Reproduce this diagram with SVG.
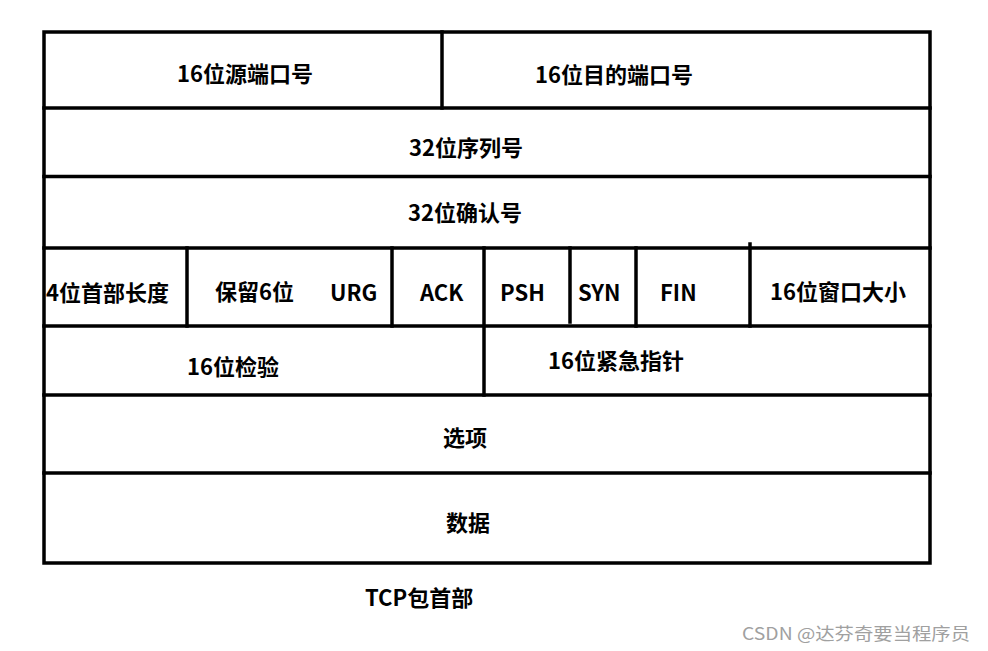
<svg xmlns="http://www.w3.org/2000/svg" width="988" height="651" viewBox="0 0 988 651">
  <style>
    .ln { stroke: #000; stroke-width: 3.5; fill: none; stroke-linecap: square; }
    .t { font-family: "Noto Sans CJK SC", "Microsoft YaHei", sans-serif; font-weight: bold; font-size: 22px; fill: #000; }
    .wm { font-family: "Noto Sans CJK SC", sans-serif; font-size: 17px; fill: #a0a0a0; }
  </style>
  <rect width="988" height="651" fill="#fff"/>
  <g id="connectors">
    <rect class="ln" x="44" y="32" width="886" height="531"/>
    <line class="ln" x1="44" y1="108" x2="930" y2="108"/>
    <line class="ln" x1="442" y1="32" x2="442" y2="108"/>
    <line class="ln" x1="44" y1="176.5" x2="930" y2="176.5"/>
    <line class="ln" x1="44" y1="248" x2="930" y2="248"/>
    <line class="ln" x1="44" y1="326" x2="930" y2="326"/>
    <line class="ln" x1="187" y1="248" x2="187" y2="326"/>
    <line class="ln" x1="392" y1="248" x2="392" y2="326"/>
    <line class="ln" x1="484" y1="248" x2="484" y2="395"/>
    <line class="ln" x1="570" y1="248" x2="570" y2="322"/>
    <line class="ln" x1="636" y1="248" x2="636" y2="326"/>
    <line class="ln" x1="750" y1="244" x2="750" y2="326"/>
    <line class="ln" x1="44" y1="395" x2="930" y2="395"/>
    <line class="ln" x1="44" y1="473" x2="930" y2="473"/>
  </g>
  <g id="src-port"><text class="t" x="177" y="82">16位源端口号</text></g>
  <g id="dst-port"><text class="t" x="535" y="83">16位目的端口号</text></g>
  <g id="seq"><text class="t" x="409" y="156">32位序列号</text></g>
  <g id="ack-num"><text class="t" x="408" y="221">32位确认号</text></g>
  <g id="hdr-len"><text class="t" x="46" y="301">4位首部长度</text></g>
  <g id="reserved"><text class="t" x="215" y="300">保留6位</text></g>
  <g id="urg"><text class="t" x="330" y="301">URG</text></g>
  <g id="ack"><text class="t" x="420" y="301">ACK</text></g>
  <g id="psh"><text class="t" x="500" y="301">PSH</text></g>
  <g id="syn"><text class="t" x="578" y="301">SYN</text></g>
  <g id="fin"><text class="t" x="660" y="301">FIN</text></g>
  <g id="window"><text class="t" x="770" y="300">16位窗口大小</text></g>
  <g id="checksum"><text class="t" x="187" y="375">16位检验</text></g>
  <g id="urgent-ptr"><text class="t" x="548" y="369">16位紧急指针</text></g>
  <g id="options"><text class="t" x="465" y="446" text-anchor="middle">选项</text></g>
  <g id="data"><text class="t" x="468" y="531" text-anchor="middle">数据</text></g>
  <g id="caption"><text class="t" x="365" y="606">TCP包首部</text></g>
  <g id="watermark"><text class="wm" x="742" y="640" textLength="228" lengthAdjust="spacingAndGlyphs">CSDN @达芬奇要当程序员</text></g>
</svg>
